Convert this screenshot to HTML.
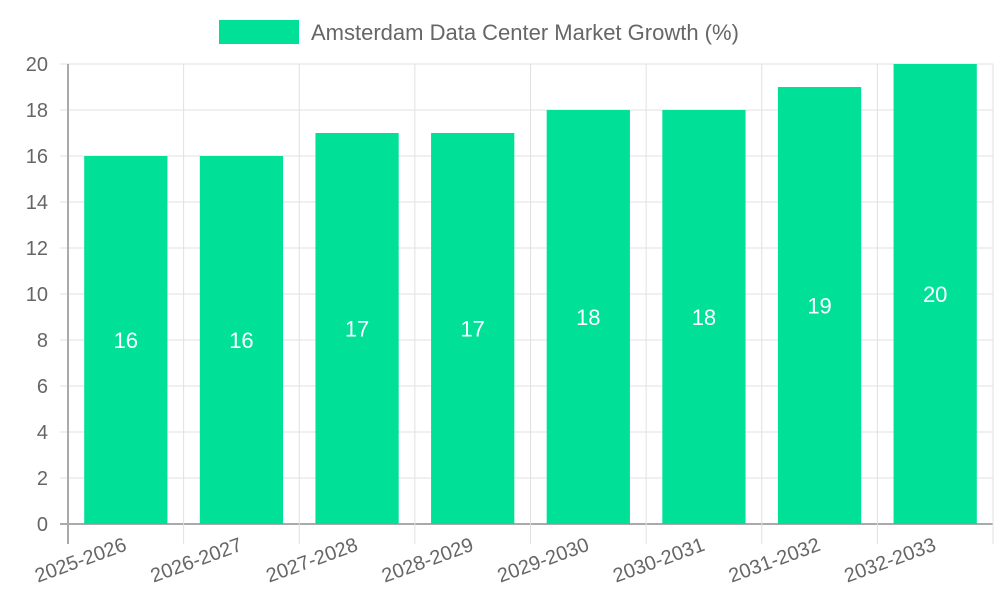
<!DOCTYPE html>
<html><head><meta charset="utf-8"><style>
html,body{margin:0;padding:0;background:#fff;}
svg{display:block;font-family:"Liberation Sans",sans-serif;}
</style></head><body>
<svg id="chart" width="1000" height="600">
<g>
<rect x="219" y="20" width="80" height="24" fill="#00e096"/>
<text x="311" y="40" font-size="22" fill="#666">Amsterdam Data Center Market Growth (%)</text>
</g>
<g id="grid"></g><g id="bars"></g><g id="axes"></g>
</svg>
<script>
const categories=["2025-2026","2026-2027","2027-2028","2028-2029","2029-2030","2030-2031","2031-2032","2032-2033"];
const values=[16,16,17,17,18,18,19,20];
const yTicks=[0,2,4,6,8,10,12,14,16,18,20];
const NS="http://www.w3.org/2000/svg";
const L=68,R=993,T=64,B=524,yMax=20;
const bw=(R-L)/categories.length;
const y=v=>B-(v/yMax)*(B-T);
const x=i=>L+i*bw;
function mk(tag,attrs,parent){const e=document.createElementNS(NS,tag);for(const k in attrs)e.setAttribute(k,attrs[k]);document.getElementById(parent).appendChild(e);return e;}
yTicks.forEach(t=>{
 const g=mk("line",{x1:L-8,x2:R,y1:y(t),y2:y(t),stroke:t===0?"#aaa":"#e0e0e0","stroke-width":t===0?2:1},"grid");
 
 
 const tx=mk("text",{x:L-20,y:y(t)+7,"text-anchor":"end","font-size":20,fill:"#666"},"axes");
 tx.textContent=t;
 
 
});
for(let i=0;i<=categories.length;i++){
 const g=mk("line",{x1:x(i),x2:x(i),y1:T,y2:B+20,stroke:i===0?"#aaa":"#e0e0e0","stroke-width":i===0?2:1},"grid");
 
 
}
categories.forEach((c,i)=>{
 const cx=x(i)+bw/2, w=bw*0.72;
 const r=mk("rect",{x:cx-w/2,y:y(values[i]),width:w,height:B-y(values[i]),fill:"#00e096"},"bars");
 
 
 const v=mk("text",{x:cx,y:(y(values[i])+B)/2+8,"text-anchor":"middle","font-size":22,fill:"#fff"},"bars");
 v.textContent=values[i];
 
 
 const lx=cx+2, ly=B+26;
 const t=mk("text",{x:lx,y:ly,"text-anchor":"end","font-size":20,fill:"#666",transform:`rotate(-20 ${lx} ${ly})`},"axes");
 t.textContent=c;
 
 
});
</script>
</body></html>
